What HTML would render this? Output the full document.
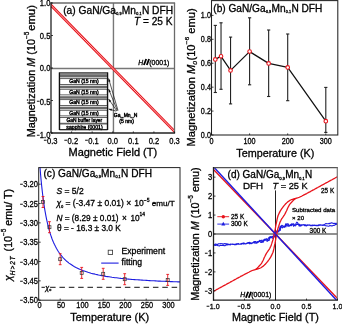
<!DOCTYPE html>
<html><head><meta charset="utf-8"><title>Figure</title>
<style>
html,body{margin:0;padding:0;background:#fff;}
svg{display:block;font-family:"Liberation Sans", sans-serif;}
text{stroke:#000;stroke-width:0.3px;}
</style></head><body>
<svg width="342" height="324" viewBox="0 0 342 324">
<rect x="0" y="0" width="342" height="324" fill="#fff"/>
<g id="pa">
<line x1="51.00" y1="68.50" x2="174.50" y2="68.50" stroke="#777" stroke-width="1.4" />
<line x1="113.45" y1="3.00" x2="113.45" y2="133.00" stroke="#777" stroke-width="1.4" />
<clipPath id="ac"><rect x="51.00" y="3.00" width="123.50" height="130.00"/></clipPath>
<line x1="50.00" y1="4.26" x2="175.20" y2="132.03" stroke="#e8141c" stroke-width="2.7" clip-path="url(#ac)"/>
<line x1="50.00" y1="4.26" x2="175.20" y2="132.03" stroke="#fff" stroke-width="0.8" opacity="0.85" clip-path="url(#ac)"/>
<line x1="51.00" y1="3.00" x2="175.10" y2="3.00" stroke="#6a6a6a" stroke-width="1.4" />
<line x1="174.50" y1="3.00" x2="174.50" y2="133.00" stroke="#6a6a6a" stroke-width="1.3" />
<line x1="51.00" y1="2.30" x2="51.00" y2="133.60" stroke="#222" stroke-width="1.3" />
<line x1="51.00" y1="133.00" x2="175.10" y2="133.00" stroke="#222" stroke-width="1.3" />
<line x1="51.00" y1="3.00" x2="53.00" y2="3.00" stroke="#111" stroke-width="0.8" />
<text transform="translate(50.40 6.10) scale(0.88 1)" font-size="8.6" text-anchor="end">1.0</text>
<line x1="51.00" y1="35.50" x2="53.00" y2="35.50" stroke="#111" stroke-width="0.8" />
<text transform="translate(50.40 38.60) scale(0.88 1)" font-size="8.6" text-anchor="end">0.5</text>
<line x1="51.00" y1="68.00" x2="53.00" y2="68.00" stroke="#111" stroke-width="0.8" />
<text transform="translate(50.40 71.10) scale(0.88 1)" font-size="8.6" text-anchor="end">0.0</text>
<line x1="51.00" y1="100.50" x2="53.00" y2="100.50" stroke="#111" stroke-width="0.8" />
<text transform="translate(50.40 104.50) scale(0.88 1)" font-size="8.6" text-anchor="end"><tspan font-size="5.8" dy="-1.05">−</tspan><tspan dy="1.05" dx="0.3">0.5</tspan></text>
<line x1="51.00" y1="133.00" x2="53.00" y2="133.00" stroke="#111" stroke-width="0.8" />
<text transform="translate(50.40 137.80) scale(0.88 1)" font-size="8.6" text-anchor="end"><tspan font-size="5.8" dy="-1.05">−</tspan><tspan dy="1.05" dx="0.3">1.0</tspan></text>
<line x1="51.00" y1="133.00" x2="51.00" y2="131.40" stroke="#111" stroke-width="0.8" />
<text transform="translate(50.65 143.50) scale(0.88 1)" font-size="8.6" text-anchor="middle"><tspan font-size="5.8" dy="-1.05">−</tspan><tspan dy="1.05" dx="0.3">0.3</tspan></text>
<line x1="71.58" y1="133.00" x2="71.58" y2="131.40" stroke="#111" stroke-width="0.8" />
<text transform="translate(71.23 143.50) scale(0.88 1)" font-size="8.6" text-anchor="middle"><tspan font-size="5.8" dy="-1.05">−</tspan><tspan dy="1.05" dx="0.3">0.2</tspan></text>
<line x1="92.17" y1="133.00" x2="92.17" y2="131.40" stroke="#111" stroke-width="0.8" />
<text transform="translate(91.82 143.50) scale(0.88 1)" font-size="8.6" text-anchor="middle"><tspan font-size="5.8" dy="-1.05">−</tspan><tspan dy="1.05" dx="0.3">0.1</tspan></text>
<line x1="112.75" y1="133.00" x2="112.75" y2="131.40" stroke="#111" stroke-width="0.8" />
<text transform="translate(112.75 143.50) scale(0.88 1)" font-size="8.6" text-anchor="middle">0.0</text>
<line x1="133.33" y1="133.00" x2="133.33" y2="131.40" stroke="#111" stroke-width="0.8" />
<text transform="translate(133.33 143.50) scale(0.88 1)" font-size="8.6" text-anchor="middle">0.1</text>
<line x1="153.92" y1="133.00" x2="153.92" y2="131.40" stroke="#111" stroke-width="0.8" />
<text transform="translate(153.92 143.50) scale(0.88 1)" font-size="8.6" text-anchor="middle">0.2</text>
<line x1="174.50" y1="133.00" x2="174.50" y2="131.40" stroke="#111" stroke-width="0.8" />
<text transform="translate(174.50 143.50) scale(0.88 1)" font-size="8.6" text-anchor="middle">0.3</text>
<text x="112.8" y="155.9" font-size="11.0" text-anchor="middle" fill="#000" >Magnetic Field (T)</text>
<text transform="translate(35.0 71.2) rotate(-90) scale(1.0 1.0)" font-size="10.85" text-anchor="middle" >Magnetization <tspan font-style="italic">M</tspan> (10<tspan font-size="60%" dy="-6">−5</tspan><tspan dy="6" dx="0.8" font-size="11.3">emu)</tspan></text>
<text x="63.2" y="13.7" font-size="10.22" text-anchor="start" fill="#000" >(a) GaN/Ga<tspan font-size="3.7" dy="1.3" dx="0.3">0.9</tspan><tspan dy="-1.3" dx="0.4">Mn</tspan><tspan font-size="3.7" dy="1.3" dx="0.3">0.1</tspan><tspan dy="-1.3" dx="0.4">N</tspan> DFH</text>
<text x="134.0" y="25.2" font-size="10.1" text-anchor="start" fill="#000" ><tspan font-style="italic">T</tspan> = 25 K</text>
<text x="138.3" y="64.6" font-size="6.8" text-anchor="start" fill="#000" ><tspan font-style="italic">H</tspan></text>
<line x1="143.90" y1="65.00" x2="146.20" y2="59.00" stroke="#000" stroke-width="1.8" />
<line x1="146.80" y1="65.00" x2="149.10" y2="59.00" stroke="#000" stroke-width="1.8" />
<text x="149.3" y="64.6" font-size="6.95" text-anchor="start" fill="#000" >(0001)</text>
<rect x="59.40" y="72.40" width="48.20" height="57.30" fill="#fff" stroke="none" stroke-width="0" />
<rect x="59.40" y="72.30" width="48.20" height="1.30" fill="#222" stroke="none" stroke-width="0" />
<rect x="59.40" y="74.20" width="48.20" height="3.20" fill="#6a6a6a" stroke="none" stroke-width="0" />
<rect x="59.80" y="78.70" width="47.40" height="5.70" fill="#fff" stroke="#222" stroke-width="0.7" />
<text x="84.0" y="83.4" font-size="5.1" text-anchor="middle" fill="#222" style="stroke-width:0.4px">GaN (15 nm)</text>
<rect x="59.40" y="85.70" width="48.20" height="2.50" fill="#6a6a6a" stroke="none" stroke-width="0" />
<rect x="59.80" y="89.20" width="47.40" height="5.70" fill="#fff" stroke="#222" stroke-width="0.7" />
<text x="84.0" y="93.9" font-size="5.1" text-anchor="middle" fill="#222" style="stroke-width:0.4px">GaN (15 nm)</text>
<rect x="59.40" y="96.20" width="48.20" height="2.50" fill="#6a6a6a" stroke="none" stroke-width="0" />
<rect x="59.80" y="99.70" width="47.40" height="5.70" fill="#fff" stroke="#222" stroke-width="0.7" />
<text x="84.0" y="104.4" font-size="5.1" text-anchor="middle" fill="#222" style="stroke-width:0.4px">GaN (15 nm)</text>
<rect x="59.40" y="106.70" width="48.20" height="2.50" fill="#6a6a6a" stroke="none" stroke-width="0" />
<rect x="59.80" y="110.20" width="47.40" height="5.70" fill="#fff" stroke="#222" stroke-width="0.7" />
<text x="84.0" y="114.9" font-size="5.1" text-anchor="middle" fill="#222" style="stroke-width:0.4px">GaN (15 nm)</text>
<rect x="59.80" y="117.50" width="47.40" height="5.70" fill="#fff" stroke="#222" stroke-width="0.7" />
<text x="84.3" y="122.2" font-size="4.9" text-anchor="middle" fill="#222" style="stroke-width:0.4px">GaN buffer layer</text>
<rect x="59.80" y="124.00" width="47.40" height="5.50" fill="#fff" stroke="#222" stroke-width="0.7" />
<text x="84.5" y="128.6" font-size="5.2" text-anchor="middle" fill="#222" style="stroke-width:0.4px">sapphire (0001)</text>
<line x1="59.40" y1="72.40" x2="59.40" y2="130.00" stroke="#111" stroke-width="1.3" />
<line x1="107.60" y1="72.40" x2="107.60" y2="130.00" stroke="#111" stroke-width="1.3" />
<line x1="59.40" y1="129.80" x2="107.60" y2="129.80" stroke="#111" stroke-width="1.0" />
<line x1="118.00" y1="110.50" x2="108.60" y2="78.50" stroke="#111" stroke-width="0.7" />
<polygon points="108.60,78.50 110.56,81.26 108.45,81.88" fill="#111"/>
<line x1="117.40" y1="110.70" x2="108.60" y2="89.00" stroke="#111" stroke-width="0.7" />
<polygon points="108.60,89.00 110.82,91.55 108.78,92.38" fill="#111"/>
<line x1="116.80" y1="110.90" x2="108.60" y2="99.00" stroke="#111" stroke-width="0.7" />
<polygon points="108.60,99.00 111.32,101.01 109.51,102.26" fill="#111"/>
<line x1="116.20" y1="111.10" x2="108.60" y2="109.00" stroke="#111" stroke-width="0.7" />
<polygon points="108.60,109.00 111.98,108.79 111.39,110.91" fill="#111"/>
<text x="125.6" y="117.0" font-size="5.0" text-anchor="middle" fill="#000" style="stroke-width:0.4px">Ga<tspan font-size="2.3" dy="0.8">0.9</tspan><tspan dy="-0.8">Mn</tspan><tspan font-size="2.3" dy="0.8">0.1</tspan><tspan dy="-0.8">N</tspan></text>
<text x="126.6" y="123.2" font-size="5.1" text-anchor="middle" fill="#000" style="stroke-width:0.4px">(5 nm)</text>
</g>
<g id="pb">
<rect x="211.50" y="0.60" width="126.30" height="134.40" fill="none" stroke="#222" stroke-width="1.05" />
<line x1="211.50" y1="135.00" x2="213.50" y2="135.00" stroke="#111" stroke-width="0.8" />
<text transform="translate(210.90 137.90) scale(0.88 1)" font-size="8.2" text-anchor="end">0.0</text>
<line x1="211.50" y1="111.08" x2="213.50" y2="111.08" stroke="#111" stroke-width="0.8" />
<text transform="translate(210.90 113.98) scale(0.88 1)" font-size="8.2" text-anchor="end">0.2</text>
<line x1="211.50" y1="87.16" x2="213.50" y2="87.16" stroke="#111" stroke-width="0.8" />
<text transform="translate(210.90 90.06) scale(0.88 1)" font-size="8.2" text-anchor="end">0.4</text>
<line x1="211.50" y1="63.24" x2="213.50" y2="63.24" stroke="#111" stroke-width="0.8" />
<text transform="translate(210.90 66.14) scale(0.88 1)" font-size="8.2" text-anchor="end">0.6</text>
<line x1="211.50" y1="39.32" x2="213.50" y2="39.32" stroke="#111" stroke-width="0.8" />
<text transform="translate(210.90 42.22) scale(0.88 1)" font-size="8.2" text-anchor="end">0.8</text>
<line x1="211.50" y1="15.40" x2="213.50" y2="15.40" stroke="#111" stroke-width="0.8" />
<text transform="translate(210.90 18.30) scale(0.88 1)" font-size="8.2" text-anchor="end">1.0</text>
<line x1="211.50" y1="135.00" x2="211.50" y2="133.40" stroke="#111" stroke-width="0.8" />
<text transform="translate(211.50 144.00) scale(0.88 1)" font-size="8.2" text-anchor="middle">0</text>
<line x1="249.60" y1="135.00" x2="249.60" y2="133.40" stroke="#111" stroke-width="0.8" />
<text transform="translate(249.60 144.00) scale(0.88 1)" font-size="8.2" text-anchor="middle">100</text>
<line x1="287.70" y1="135.00" x2="287.70" y2="133.40" stroke="#111" stroke-width="0.8" />
<text transform="translate(287.70 144.00) scale(0.88 1)" font-size="8.2" text-anchor="middle">200</text>
<line x1="325.80" y1="135.00" x2="325.80" y2="133.40" stroke="#111" stroke-width="0.8" />
<text transform="translate(325.80 144.00) scale(0.88 1)" font-size="8.2" text-anchor="middle">300</text>
<line x1="215.31" y1="25.40" x2="215.31" y2="92.50" stroke="#222" stroke-width="1.1" />
<line x1="213.71" y1="25.40" x2="216.91" y2="25.40" stroke="#222" stroke-width="1.1" />
<line x1="213.71" y1="92.50" x2="216.91" y2="92.50" stroke="#222" stroke-width="1.1" />
<line x1="221.03" y1="22.80" x2="221.03" y2="89.30" stroke="#222" stroke-width="1.1" />
<line x1="219.43" y1="22.80" x2="222.62" y2="22.80" stroke="#222" stroke-width="1.1" />
<line x1="219.43" y1="89.30" x2="222.62" y2="89.30" stroke="#222" stroke-width="1.1" />
<line x1="230.55" y1="37.10" x2="230.55" y2="103.90" stroke="#222" stroke-width="1.1" />
<line x1="228.95" y1="37.10" x2="232.15" y2="37.10" stroke="#222" stroke-width="1.1" />
<line x1="228.95" y1="103.90" x2="232.15" y2="103.90" stroke="#222" stroke-width="1.1" />
<line x1="249.60" y1="17.80" x2="249.60" y2="84.80" stroke="#222" stroke-width="1.1" />
<line x1="248.00" y1="17.80" x2="251.20" y2="17.80" stroke="#222" stroke-width="1.1" />
<line x1="248.00" y1="84.80" x2="251.20" y2="84.80" stroke="#222" stroke-width="1.1" />
<line x1="268.65" y1="30.00" x2="268.65" y2="96.50" stroke="#222" stroke-width="1.1" />
<line x1="267.05" y1="30.00" x2="270.25" y2="30.00" stroke="#222" stroke-width="1.1" />
<line x1="267.05" y1="96.50" x2="270.25" y2="96.50" stroke="#222" stroke-width="1.1" />
<line x1="287.70" y1="34.00" x2="287.70" y2="100.70" stroke="#222" stroke-width="1.1" />
<line x1="286.10" y1="34.00" x2="289.30" y2="34.00" stroke="#222" stroke-width="1.1" />
<line x1="286.10" y1="100.70" x2="289.30" y2="100.70" stroke="#222" stroke-width="1.1" />
<line x1="325.80" y1="87.40" x2="325.80" y2="132.40" stroke="#222" stroke-width="1.1" />
<line x1="324.20" y1="87.40" x2="327.40" y2="87.40" stroke="#222" stroke-width="1.1" />
<line x1="324.20" y1="132.40" x2="327.40" y2="132.40" stroke="#222" stroke-width="1.1" />
<polyline points="215.3,59.4 221.0,56.3 230.6,70.4 249.6,51.6 268.6,63.4 287.7,67.4 325.8,121.2" fill="none" stroke="#111" stroke-width="1.25" stroke-linejoin="round" />
<circle cx="215.31" cy="59.40" r="1.8" fill="#fff" stroke="#e8141c" stroke-width="1.1"/>
<circle cx="221.03" cy="56.30" r="1.8" fill="#fff" stroke="#e8141c" stroke-width="1.1"/>
<circle cx="230.55" cy="70.40" r="1.8" fill="#fff" stroke="#e8141c" stroke-width="1.1"/>
<circle cx="249.60" cy="51.60" r="1.8" fill="#fff" stroke="#e8141c" stroke-width="1.1"/>
<circle cx="268.65" cy="63.40" r="1.8" fill="#fff" stroke="#e8141c" stroke-width="1.1"/>
<circle cx="287.70" cy="67.40" r="1.8" fill="#fff" stroke="#e8141c" stroke-width="1.1"/>
<circle cx="325.80" cy="121.20" r="1.8" fill="#fff" stroke="#e8141c" stroke-width="1.1"/>
<text x="213.3" y="12.0" font-size="10.15" text-anchor="start" fill="#000" >(b) GaN/Ga<tspan font-size="3.7" dy="1.3" dx="0.3">0.9</tspan><tspan dy="-1.3" dx="0.4">Mn</tspan><tspan font-size="3.7" dy="1.3" dx="0.3">0.1</tspan><tspan dy="-1.3" dx="0.4">N</tspan> DFH</text>
<text x="275.3" y="156.8" font-size="10.8" text-anchor="middle" fill="#000" >Temperature (K)</text>
<text transform="translate(194.8 146.5) rotate(-90) scale(1.0 0.9)" font-size="11.15" text-anchor="start" >Magnetization <tspan font-style="italic">M</tspan><tspan font-size="60%" dy="2" font-style="italic">0</tspan><tspan dy="-2" dx="0.5">(10</tspan><tspan font-size="60%" dy="-6.5">−6</tspan><tspan dy="6.5"> emu)</tspan></text>
</g>
<g id="pc">
<line x1="50.10" y1="287.30" x2="179.00" y2="287.30" stroke="#111" stroke-width="1.0" stroke-dasharray="5.5 3.85"/>
<line x1="41.50" y1="287.30" x2="44.90" y2="287.30" stroke="#111" stroke-width="1.0" />
<clipPath id="cc"><rect x="38.70" y="167.60" width="141.30" height="132.60"/></clipPath>
<polyline points="39.5,160.6 40.0,167.3 40.5,173.5 41.0,179.1 41.5,184.2 42.0,188.9 42.5,193.3 43.0,197.4 43.5,201.1 44.0,204.6 44.5,207.9 45.0,210.9 45.5,213.7 46.0,216.4 46.5,218.9 47.0,221.2 47.5,223.4 48.0,225.5 48.5,227.5 49.0,229.3 49.5,231.1 50.0,232.8 50.5,234.4 51.0,235.9 51.5,237.3 52.0,238.7 52.5,240.0 53.0,241.2 53.5,242.4 54.0,243.5 54.5,244.6 55.0,245.6 55.5,246.6 56.0,247.5 56.5,248.5 57.0,249.3 57.5,250.2 58.0,251.0 58.5,251.8 59.0,252.5 59.5,253.2 60.0,253.9 60.5,254.6 61.0,255.2 61.5,255.8 62.0,256.4 62.5,257.0 63.0,257.6 63.5,258.1 64.0,258.6 64.5,259.2 65.0,259.6 65.5,260.1 66.0,260.6 66.5,261.0 67.0,261.5 67.5,261.9 68.0,262.3 68.5,262.7 69.0,263.1 69.5,263.4 70.0,263.8 71.5,264.8 73.0,265.8 74.5,266.7 76.0,267.5 77.5,268.2 79.0,268.9 80.5,269.6 82.0,270.2 83.5,270.8 85.0,271.3 86.5,271.8 88.0,272.3 89.5,272.7 91.0,273.2 92.5,273.6 94.0,273.9 95.5,274.3 97.0,274.6 98.5,275.0 100.0,275.3 101.5,275.6 103.0,275.8 104.5,276.1 106.0,276.4 107.5,276.6 109.0,276.8 110.5,277.0 112.0,277.3 113.5,277.5 115.0,277.7 116.5,277.8 118.0,278.0 119.5,278.2 121.0,278.4 122.5,278.5 124.0,278.7 125.5,278.8 127.0,279.0 128.5,279.1 130.0,279.2 131.5,279.4 133.0,279.5 134.5,279.6 136.0,279.7 137.5,279.8 139.0,279.9 140.5,280.0 142.0,280.1 143.5,280.2 145.0,280.3 146.5,280.4 148.0,280.5 149.5,280.6 151.0,280.7 152.5,280.8 154.0,280.8 155.5,280.9 157.0,281.0 158.5,281.1 160.0,281.1 161.5,281.2 163.0,281.3 164.5,281.3 166.0,281.4 167.5,281.5 169.0,281.5 170.5,281.6 172.0,281.6 173.5,281.7 175.0,281.7 176.5,281.8 178.0,281.9 179.5,281.9 181.0,282.0" fill="none" stroke="#1c1ce0" stroke-width="1.1" stroke-linejoin="round" clip-path="url(#cc)"/>
<line x1="43.00" y1="196.50" x2="43.00" y2="207.50" stroke="#e8141c" stroke-width="0.9" />
<line x1="41.60" y1="196.50" x2="44.40" y2="196.50" stroke="#e8141c" stroke-width="0.9" />
<line x1="41.60" y1="207.50" x2="44.40" y2="207.50" stroke="#e8141c" stroke-width="0.9" />
<rect x="41.50" y="200.50" width="3.00" height="3.00" fill="none" stroke="#333" stroke-width="0.7" />
<line x1="49.45" y1="221.70" x2="49.45" y2="232.70" stroke="#e8141c" stroke-width="0.9" />
<line x1="48.05" y1="221.70" x2="50.85" y2="221.70" stroke="#e8141c" stroke-width="0.9" />
<line x1="48.05" y1="232.70" x2="50.85" y2="232.70" stroke="#e8141c" stroke-width="0.9" />
<rect x="47.95" y="225.70" width="3.00" height="3.00" fill="none" stroke="#333" stroke-width="0.7" />
<line x1="60.20" y1="253.70" x2="60.20" y2="264.70" stroke="#e8141c" stroke-width="0.9" />
<line x1="58.80" y1="253.70" x2="61.60" y2="253.70" stroke="#e8141c" stroke-width="0.9" />
<line x1="58.80" y1="264.70" x2="61.60" y2="264.70" stroke="#e8141c" stroke-width="0.9" />
<rect x="58.70" y="257.70" width="3.00" height="3.00" fill="none" stroke="#333" stroke-width="0.7" />
<line x1="81.70" y1="267.40" x2="81.70" y2="278.40" stroke="#e8141c" stroke-width="0.9" />
<line x1="80.30" y1="267.40" x2="83.10" y2="267.40" stroke="#e8141c" stroke-width="0.9" />
<line x1="80.30" y1="278.40" x2="83.10" y2="278.40" stroke="#e8141c" stroke-width="0.9" />
<rect x="80.20" y="271.40" width="3.00" height="3.00" fill="none" stroke="#333" stroke-width="0.7" />
<line x1="103.20" y1="268.30" x2="103.20" y2="279.30" stroke="#e8141c" stroke-width="0.9" />
<line x1="101.80" y1="268.30" x2="104.60" y2="268.30" stroke="#e8141c" stroke-width="0.9" />
<line x1="101.80" y1="279.30" x2="104.60" y2="279.30" stroke="#e8141c" stroke-width="0.9" />
<rect x="101.70" y="272.30" width="3.00" height="3.00" fill="none" stroke="#333" stroke-width="0.7" />
<line x1="124.70" y1="273.70" x2="124.70" y2="284.70" stroke="#e8141c" stroke-width="0.9" />
<line x1="123.30" y1="273.70" x2="126.10" y2="273.70" stroke="#e8141c" stroke-width="0.9" />
<line x1="123.30" y1="284.70" x2="126.10" y2="284.70" stroke="#e8141c" stroke-width="0.9" />
<rect x="123.20" y="277.70" width="3.00" height="3.00" fill="none" stroke="#333" stroke-width="0.7" />
<line x1="167.70" y1="274.40" x2="167.70" y2="285.40" stroke="#e8141c" stroke-width="0.9" />
<line x1="166.30" y1="274.40" x2="169.10" y2="274.40" stroke="#e8141c" stroke-width="0.9" />
<line x1="166.30" y1="285.40" x2="169.10" y2="285.40" stroke="#e8141c" stroke-width="0.9" />
<rect x="166.20" y="278.40" width="3.00" height="3.00" fill="none" stroke="#333" stroke-width="0.7" />
<rect x="38.70" y="167.60" width="141.30" height="132.60" fill="none" stroke="#222" stroke-width="1.0" />
<line x1="38.70" y1="184.20" x2="40.70" y2="184.20" stroke="#111" stroke-width="0.8" />
<text transform="translate(37.90 187.30) scale(0.88 1)" font-size="8.6" text-anchor="end"><tspan font-size="5.8" dy="-1.05">−</tspan><tspan dy="1.05" dx="0.3">3.20</tspan></text>
<line x1="38.70" y1="203.53" x2="40.70" y2="203.53" stroke="#111" stroke-width="0.8" />
<text transform="translate(37.90 206.63) scale(0.88 1)" font-size="8.6" text-anchor="end"><tspan font-size="5.8" dy="-1.05">−</tspan><tspan dy="1.05" dx="0.3">3.25</tspan></text>
<line x1="38.70" y1="222.86" x2="40.70" y2="222.86" stroke="#111" stroke-width="0.8" />
<text transform="translate(37.90 225.96) scale(0.88 1)" font-size="8.6" text-anchor="end"><tspan font-size="5.8" dy="-1.05">−</tspan><tspan dy="1.05" dx="0.3">3.30</tspan></text>
<line x1="38.70" y1="242.19" x2="40.70" y2="242.19" stroke="#111" stroke-width="0.8" />
<text transform="translate(37.90 245.29) scale(0.88 1)" font-size="8.6" text-anchor="end"><tspan font-size="5.8" dy="-1.05">−</tspan><tspan dy="1.05" dx="0.3">3.35</tspan></text>
<line x1="38.70" y1="261.52" x2="40.70" y2="261.52" stroke="#111" stroke-width="0.8" />
<text transform="translate(37.90 264.62) scale(0.88 1)" font-size="8.6" text-anchor="end"><tspan font-size="5.8" dy="-1.05">−</tspan><tspan dy="1.05" dx="0.3">3.40</tspan></text>
<line x1="38.70" y1="280.85" x2="40.70" y2="280.85" stroke="#111" stroke-width="0.8" />
<text transform="translate(37.90 283.95) scale(0.88 1)" font-size="8.6" text-anchor="end"><tspan font-size="5.8" dy="-1.05">−</tspan><tspan dy="1.05" dx="0.3">3.45</tspan></text>
<line x1="38.70" y1="300.18" x2="40.70" y2="300.18" stroke="#111" stroke-width="0.8" />
<text transform="translate(37.90 303.28) scale(0.88 1)" font-size="8.6" text-anchor="end"><tspan font-size="5.8" dy="-1.05">−</tspan><tspan dy="1.05" dx="0.3">3.50</tspan></text>
<line x1="38.70" y1="300.20" x2="38.70" y2="298.60" stroke="#111" stroke-width="0.8" />
<text transform="translate(39.50 308.00) scale(0.88 1)" font-size="8.4" text-anchor="middle">0</text>
<line x1="60.20" y1="300.20" x2="60.20" y2="298.60" stroke="#111" stroke-width="0.8" />
<text transform="translate(61.00 308.00) scale(0.88 1)" font-size="8.4" text-anchor="middle">50</text>
<line x1="81.70" y1="300.20" x2="81.70" y2="298.60" stroke="#111" stroke-width="0.8" />
<text transform="translate(82.50 308.00) scale(0.88 1)" font-size="8.4" text-anchor="middle">100</text>
<line x1="103.20" y1="300.20" x2="103.20" y2="298.60" stroke="#111" stroke-width="0.8" />
<text transform="translate(104.00 308.00) scale(0.88 1)" font-size="8.4" text-anchor="middle">150</text>
<line x1="124.70" y1="300.20" x2="124.70" y2="298.60" stroke="#111" stroke-width="0.8" />
<text transform="translate(125.50 308.00) scale(0.88 1)" font-size="8.4" text-anchor="middle">200</text>
<line x1="146.20" y1="300.20" x2="146.20" y2="298.60" stroke="#111" stroke-width="0.8" />
<text transform="translate(147.00 308.00) scale(0.88 1)" font-size="8.4" text-anchor="middle">250</text>
<line x1="167.70" y1="300.20" x2="167.70" y2="298.60" stroke="#111" stroke-width="0.8" />
<text transform="translate(168.50 308.00) scale(0.88 1)" font-size="8.4" text-anchor="middle">300</text>
<text x="109.7" y="320.6" font-size="10.9" text-anchor="middle" fill="#000" >Temperature (K)</text>
<text transform="translate(11.8 280.9) rotate(-90) scale(1.0 1.0)" font-size="10.7" text-anchor="start" ><tspan font-size="10.5" font-style="italic">χ</tspan><tspan font-size="6.4" dy="3.3" font-style="italic" letter-spacing="1.0">H&gt;2T</tspan><tspan dy="-3.3" dx="1.0"> (10</tspan><tspan font-size="60%" dy="-6">−5</tspan><tspan dy="6"> emu/ T)</tspan></text>
<text x="43.5" y="176.6" font-size="10.15" text-anchor="start" fill="#000" >(c) GaN/Ga<tspan font-size="3.7" dy="1.3" dx="0.3">0.9</tspan><tspan dy="-1.3" dx="0.4">Mn</tspan><tspan font-size="3.7" dy="1.3" dx="0.3">0.1</tspan><tspan dy="-1.3" dx="0.4">N</tspan> DFH</text>
<text x="56.5" y="193.9" font-size="8.5" text-anchor="start" fill="#000" ><tspan font-style="italic">S</tspan> = 5/2</text>
<text x="56.5" y="206.3" font-size="8.5" text-anchor="start" fill="#000" ><tspan font-style="italic">χ</tspan><tspan font-size="3.6" dy="1.4">0</tspan><tspan dy="-1.4"> = (-3.47 ± 0.01) ×</tspan><tspan dx="0.8"> 10</tspan><tspan font-size="60%" dy="-4.6">−5</tspan><tspan dy="4.6" dx="2.2" font-size="8.1">emu/T</tspan></text>
<text x="56.5" y="220.6" font-size="8.25" text-anchor="start" fill="#000" ><tspan font-style="italic">N</tspan> = (8.29 ± 0.01)<tspan dx="1.2"> ×</tspan><tspan dx="1.2"> 10</tspan><tspan font-size="60%" dy="-4.4">14</tspan></text>
<text x="57.0" y="231.4" font-size="8.3" text-anchor="start" fill="#000" >θ = - 16.3 ± 3.0 K</text>
<rect x="108.20" y="250.20" width="4.40" height="4.40" fill="none" stroke="#333" stroke-width="0.8" />
<text x="121.6" y="254.4" font-size="8.6" text-anchor="start" fill="#000" >Experiment</text>
<line x1="101.20" y1="263.10" x2="118.60" y2="263.10" stroke="#1c1ce0" stroke-width="1.1" />
<text x="121.6" y="264.9" font-size="8.6" text-anchor="start" fill="#000" >fitting</text>
<text x="45.2" y="290.0" font-size="7.2" text-anchor="start" fill="#000" ><tspan font-style="italic">χ</tspan><tspan font-size="3.8" dy="1.3">o</tspan></text>
</g>
<g id="pd">
<clipPath id="dc"><rect x="213.50" y="167.60" width="123.80" height="132.60"/></clipPath>
<line x1="213.50" y1="234.00" x2="337.30" y2="234.00" stroke="#222" stroke-width="1.1" />
<line x1="275.50" y1="190.40" x2="275.50" y2="300.20" stroke="#222" stroke-width="1.0" />
<polyline points="212.3,245.1 213.1,245.3 213.8,245.5 214.6,245.1 215.4,245.4 216.2,245.3 217.0,245.2 217.8,245.6 218.6,245.8 219.4,246.0 220.2,245.4 221.0,245.5 221.7,245.5 222.5,245.4 223.3,245.5 224.1,245.6 224.9,245.8 225.7,245.1 226.5,244.9 227.3,244.9 228.1,244.8 228.9,244.7 229.7,244.7 230.4,244.9 231.2,244.3 232.0,244.1 232.8,244.1 233.6,244.3 234.4,244.4 235.2,244.2 236.0,244.7 236.8,244.2 237.6,243.8 238.3,243.6 239.1,244.0 239.9,244.2 240.7,243.8 241.5,244.2 242.3,243.8 243.1,243.4 243.9,242.9 244.7,243.4 245.5,244.0 246.3,243.4 247.0,243.6 247.8,243.3 248.6,243.1 249.4,242.3 250.2,242.6 251.0,243.8 251.8,243.2 252.6,243.1 253.4,242.5 254.2,242.6 254.9,241.5 255.7,241.5 256.5,243.2 257.3,242.8 258.1,242.4 258.9,241.0 259.7,241.6 260.5,240.7 261.3,240.2 262.1,242.1 262.9,242.2 263.6,241.7 264.4,239.2 265.2,240.0 266.0,239.6 266.8,238.7 267.6,240.2 268.4,240.5 269.2,240.4 270.0,236.6 270.8,236.8 271.5,237.1 272.3,236.2 273.1,236.7 273.9,236.5 274.7,237.0 275.5,232.3 276.3,231.1 277.1,231.3 277.9,230.8 278.7,230.4 279.5,229.3 280.2,230.5 281.0,226.8 281.8,225.3 282.6,225.8 283.4,226.8 284.2,227.0 285.0,225.5 285.8,227.0 286.6,224.9 287.4,223.7 288.1,223.8 288.9,225.3 289.7,226.2 290.5,224.7 291.3,225.7 292.1,224.8 292.9,224.1 293.7,223.8 294.5,225.0 295.3,225.9 296.1,223.2 296.8,222.2 297.6,222.8 298.4,224.2 299.2,224.2 300.0,224.8 300.8,226.1 301.6,225.3 302.4,225.1 303.2,224.8 304.0,225.1 304.7,224.7 305.5,224.9 306.3,225.9 307.1,225.5 307.9,225.3 308.7,224.9 309.5,225.2 310.3,225.2 311.1,225.1 311.9,225.8 312.7,225.7 313.4,225.5 314.2,225.0 315.0,225.3 315.8,225.4 316.6,225.3 317.4,225.6 318.2,225.6 319.0,225.5 319.8,224.8 320.6,224.9 321.3,225.1 322.1,225.0 322.9,224.9 323.7,224.7 324.5,224.6 325.3,223.8 326.1,223.6 326.9,223.8 327.7,223.7 328.5,223.6 329.3,223.4 330.0,223.6 330.8,223.0 331.6,222.8 332.4,223.1 333.2,223.4 334.0,223.5 334.8,223.2 335.6,223.6 336.4,223.3 337.2,223.2 337.9,223.5 338.7,224.0 338.7,223.8 337.9,224.5 337.2,224.4 336.4,224.4 335.6,224.5 334.8,225.1 334.0,225.5 333.2,225.4 332.4,225.9 331.6,225.9 330.8,225.8 330.0,225.5 329.3,225.9 328.5,226.2 327.7,226.0 326.9,226.0 326.1,225.8 325.3,225.7 324.5,225.1 323.7,225.2 322.9,225.5 322.1,225.2 321.3,225.2 320.6,225.1 319.8,225.3 319.0,224.9 318.2,225.0 317.4,225.6 316.6,225.7 315.8,225.6 315.0,225.2 314.2,225.5 313.4,225.2 312.7,225.0 311.9,225.5 311.1,225.7 310.3,225.7 309.5,224.9 308.7,225.2 307.9,225.1 307.1,224.9 306.3,225.3 305.5,225.6 304.7,225.8 304.0,224.6 303.2,224.8 302.4,224.9 301.6,224.9 300.8,225.1 300.0,225.4 299.2,226.1 298.4,224.5 297.6,224.2 296.8,224.5 296.1,225.0 295.3,225.1 294.5,225.1 293.7,226.3 292.9,224.5 292.1,223.8 291.3,224.0 290.5,225.2 289.7,225.7 288.9,224.8 288.1,226.5 287.4,225.0 286.6,224.0 285.8,223.8 285.0,226.0 284.2,227.5 283.4,226.1 282.6,227.9 281.8,227.1 281.0,226.8 280.2,226.1 279.5,228.8 278.7,232.0 277.9,230.9 277.1,232.4 276.3,232.4 275.5,233.4 274.7,232.6 273.9,234.8 273.1,238.6 272.3,237.7 271.5,237.8 270.8,236.9 270.0,238.3 269.2,237.3 268.4,238.1 267.6,241.3 266.8,241.0 266.0,240.6 265.2,238.9 264.4,240.4 263.6,240.1 262.9,240.1 262.1,242.2 261.3,242.4 260.5,242.2 259.7,240.2 258.9,241.3 258.1,241.7 257.3,241.6 256.5,242.7 255.7,243.0 254.9,243.3 254.2,241.5 253.4,242.1 252.6,242.8 251.8,242.9 251.0,243.2 250.2,243.3 249.4,243.8 248.6,242.6 247.8,242.6 247.0,243.2 246.3,243.5 245.5,243.7 244.7,243.5 243.9,244.1 243.1,243.3 242.3,243.2 241.5,243.6 240.7,244.1 239.9,244.2 239.1,243.9 238.3,244.3 237.6,244.0 236.8,243.8 236.0,243.9 235.2,244.4 234.4,244.7 233.6,244.2 232.8,244.4 232.0,244.2 231.2,244.2 230.4,244.0 229.7,244.3 228.9,244.6 228.1,244.0 227.3,243.9 226.5,243.7 225.7,243.7 224.9,243.5 224.1,243.7 223.3,244.2 222.5,243.8 221.7,243.7 221.0,243.5 220.2,243.8 219.4,243.7 218.6,243.8 217.8,244.4 217.0,244.3 216.2,244.3 215.4,244.0 214.6,244.5 213.8,244.7 213.1,244.7 212.3,245.3" fill="none" stroke="#1c1ce0" stroke-width="1.1" stroke-linejoin="round" clip-path="url(#dc)"/>
<polyline points="212.3,291.6 212.8,291.4 213.3,291.3 213.8,291.1 214.4,290.8 214.9,290.5 215.4,290.3 215.9,290.0 216.5,289.7 217.0,289.4 217.5,289.1 218.1,288.8 218.6,288.5 219.1,288.2 219.6,288.0 220.2,287.7 220.7,287.4 221.2,287.1 221.7,286.8 222.3,286.5 222.8,286.2 223.3,285.9 223.9,285.6 224.4,285.4 224.9,285.1 225.4,284.8 226.0,284.5 226.5,284.2 227.0,283.9 227.5,283.6 228.1,283.3 228.6,283.1 229.1,282.8 229.7,282.5 230.2,282.2 230.7,281.9 231.2,281.6 231.8,281.3 232.3,281.0 232.8,280.8 233.3,280.5 233.9,280.2 234.4,279.9 234.9,279.6 235.4,279.3 236.0,279.0 236.5,278.7 237.0,278.4 237.6,278.2 238.1,277.9 238.6,277.6 239.1,277.3 239.7,277.0 240.2,276.7 240.7,276.4 241.2,276.1 241.8,275.9 242.3,275.6 242.8,275.3 243.4,275.0 243.9,274.7 244.4,274.4 244.9,274.2 245.5,273.9 246.0,273.6 246.5,273.3 247.0,273.1 247.6,272.8 248.1,272.5 248.6,272.3 249.2,272.0 249.7,271.7 250.2,271.5 250.7,271.2 251.3,271.0 251.8,270.7 252.3,270.5 252.8,270.3 253.4,270.2 253.9,270.0 254.4,269.9 254.9,269.7 255.5,269.6 256.0,269.4 256.5,269.3 257.1,269.1 257.6,269.0 258.1,268.8 258.6,268.7 259.2,268.5 259.7,268.3 260.2,268.0 260.7,267.8 261.3,267.5 261.8,267.1 262.3,266.8 262.9,266.4 263.4,266.0 263.9,265.6 264.4,265.1 265.0,264.6 265.5,264.0 266.0,263.4 266.5,262.8 267.1,262.1 267.6,261.5 268.1,260.8 268.6,260.2 269.2,259.4 269.7,258.6 270.2,257.8 270.8,256.9 271.3,255.9 271.8,254.9 272.3,253.8 272.9,252.5 273.4,250.8 273.9,248.7 274.4,246.1 275.0,243.4 275.5,240.5 276.0,237.5 276.6,234.6 277.1,232.1 277.6,229.9 278.1,228.0 278.7,226.3 279.2,224.6 279.7,223.1 280.2,221.8 280.8,220.6 281.3,219.5 281.8,218.6 282.4,217.8 282.9,217.1 283.4,216.3 283.9,215.6 284.5,214.8 285.0,213.9 285.5,212.9 286.0,211.8 286.6,210.7 287.1,209.5 287.6,208.3 288.1,207.2 288.7,206.1 289.2,205.2 289.7,204.4 290.3,203.7 290.8,203.1 291.3,202.5 291.8,201.9 292.4,201.4 292.9,200.8 293.4,200.3 293.9,199.8 294.5,199.4 295.0,199.0 295.5,198.7 296.1,198.4 296.6,198.2 297.1,198.0 297.6,197.8 298.2,197.7 298.7,197.5 299.2,197.3 299.7,197.0 300.3,196.8 300.8,196.5 301.3,196.3 301.9,196.0 302.4,195.7 302.9,195.5 303.4,195.2 304.0,194.9 304.5,194.7 305.0,194.4 305.5,194.1 306.1,193.8 306.6,193.6 307.1,193.3 307.6,193.0 308.2,192.7 308.7,192.4 309.2,192.1 309.8,191.9 310.3,191.6 310.8,191.3 311.3,191.0 311.9,190.7 312.4,190.4 312.9,190.1 313.4,189.8 314.0,189.6 314.5,189.3 315.0,189.0 315.6,188.7 316.1,188.4 316.6,188.1 317.1,187.8 317.7,187.5 318.2,187.2 318.7,187.0 319.2,186.7 319.8,186.4 320.3,186.1 320.8,185.8 321.3,185.5 321.9,185.2 322.4,184.9 322.9,184.7 323.5,184.4 324.0,184.1 324.5,183.8 325.0,183.5 325.6,183.2 326.1,182.9 326.6,182.6 327.1,182.4 327.7,182.1 328.2,181.8 328.7,181.5 329.3,181.2 329.8,180.9 330.3,180.6 330.8,180.3 331.4,180.0 331.9,179.8 332.4,179.5 332.9,179.2 333.5,178.9 334.0,178.6 334.5,178.3 335.1,178.0 335.6,177.7 336.1,177.5 336.6,177.2 337.2,176.9 337.7,176.7 338.2,176.6 338.7,176.4 338.7,176.4 338.2,176.6 337.7,176.7 337.2,176.9 336.6,177.2 336.1,177.5 335.6,177.7 335.1,178.0 334.5,178.3 334.0,178.6 333.5,178.9 332.9,179.2 332.4,179.5 331.9,179.8 331.4,180.0 330.8,180.3 330.3,180.6 329.8,180.9 329.3,181.2 328.7,181.5 328.2,181.8 327.7,182.1 327.1,182.4 326.6,182.6 326.1,182.9 325.6,183.2 325.0,183.5 324.5,183.8 324.0,184.1 323.5,184.4 322.9,184.7 322.4,184.9 321.9,185.2 321.3,185.5 320.8,185.8 320.3,186.1 319.8,186.4 319.2,186.7 318.7,187.0 318.2,187.2 317.7,187.5 317.1,187.8 316.6,188.1 316.1,188.4 315.6,188.7 315.0,189.0 314.5,189.3 314.0,189.6 313.4,189.8 312.9,190.1 312.4,190.4 311.9,190.7 311.3,191.0 310.8,191.3 310.3,191.6 309.8,191.9 309.2,192.1 308.7,192.4 308.2,192.7 307.6,193.0 307.1,193.3 306.6,193.6 306.1,193.8 305.5,194.1 305.0,194.4 304.5,194.7 304.0,194.9 303.4,195.2 302.9,195.5 302.4,195.7 301.9,196.0 301.3,196.3 300.8,196.5 300.3,196.8 299.7,197.0 299.2,197.3 298.7,197.5 298.2,197.7 297.6,197.8 297.1,198.0 296.6,198.1 296.1,198.3 295.5,198.4 295.0,198.6 294.5,198.7 293.9,198.9 293.4,199.0 292.9,199.2 292.4,199.3 291.8,199.5 291.3,199.7 290.8,200.0 290.3,200.2 289.7,200.5 289.2,200.9 288.7,201.2 288.1,201.6 287.6,202.0 287.1,202.4 286.6,202.9 286.0,203.4 285.5,204.0 285.0,204.6 284.5,205.2 283.9,205.9 283.4,206.5 282.9,207.2 282.4,207.8 281.8,208.6 281.3,209.4 280.8,210.2 280.2,211.1 279.7,212.1 279.2,213.1 278.7,214.2 278.1,215.5 277.6,217.2 277.1,219.3 276.6,221.9 276.0,224.6 275.5,227.5 275.0,230.5 274.4,233.4 273.9,235.9 273.4,238.1 272.9,240.0 272.3,241.7 271.8,243.4 271.3,244.9 270.8,246.2 270.2,247.4 269.7,248.5 269.2,249.4 268.6,250.2 268.1,250.9 267.6,251.7 267.1,252.4 266.5,253.2 266.0,254.1 265.5,255.1 265.0,256.2 264.4,257.3 263.9,258.5 263.4,259.7 262.9,260.8 262.3,261.9 261.8,262.8 261.3,263.6 260.7,264.3 260.2,264.9 259.7,265.5 259.2,266.1 258.6,266.6 258.1,267.2 257.6,267.7 257.1,268.2 256.5,268.6 256.0,269.0 255.5,269.3 254.9,269.6 254.4,269.8 253.9,270.0 253.4,270.2 252.8,270.3 252.3,270.5 251.8,270.7 251.3,271.0 250.7,271.2 250.2,271.5 249.7,271.7 249.2,272.0 248.6,272.3 248.1,272.5 247.6,272.8 247.0,273.1 246.5,273.3 246.0,273.6 245.5,273.9 244.9,274.2 244.4,274.4 243.9,274.7 243.4,275.0 242.8,275.3 242.3,275.6 241.8,275.9 241.2,276.1 240.7,276.4 240.2,276.7 239.7,277.0 239.1,277.3 238.6,277.6 238.1,277.9 237.6,278.2 237.0,278.4 236.5,278.7 236.0,279.0 235.4,279.3 234.9,279.6 234.4,279.9 233.9,280.2 233.3,280.5 232.8,280.8 232.3,281.0 231.8,281.3 231.2,281.6 230.7,281.9 230.2,282.2 229.7,282.5 229.1,282.8 228.6,283.1 228.1,283.3 227.5,283.6 227.0,283.9 226.5,284.2 226.0,284.5 225.4,284.8 224.9,285.1 224.4,285.4 223.9,285.6 223.3,285.9 222.8,286.2 222.3,286.5 221.7,286.8 221.2,287.1 220.7,287.4 220.2,287.7 219.6,288.0 219.1,288.2 218.6,288.5 218.1,288.8 217.5,289.1 217.0,289.4 216.5,289.7 215.9,290.0 215.4,290.3 214.9,290.5 214.4,290.8 213.8,291.1 213.3,291.3 212.8,291.4 212.3,291.6" fill="none" stroke="#e8141c" stroke-width="1.3" stroke-linejoin="round" clip-path="url(#dc)"/>
<line x1="212.26" y1="168.28" x2="338.74" y2="299.72" stroke="#e8141c" stroke-width="1.4" clip-path="url(#dc)"/>
<line x1="212.26" y1="165.38" x2="338.74" y2="302.62" stroke="#1c1ce0" stroke-width="1.4" clip-path="url(#dc)"/>
<line x1="213.50" y1="167.60" x2="337.90" y2="167.60" stroke="#555" stroke-width="1.2" />
<line x1="337.30" y1="167.60" x2="337.30" y2="300.20" stroke="#777" stroke-width="1.2" />
<line x1="213.50" y1="167.00" x2="213.50" y2="300.80" stroke="#222" stroke-width="1.3" />
<line x1="213.50" y1="300.20" x2="337.90" y2="300.20" stroke="#222" stroke-width="1.2" />
<line x1="213.50" y1="177.15" x2="215.50" y2="177.15" stroke="#111" stroke-width="0.8" />
<text transform="translate(212.30 180.25) scale(0.88 1)" font-size="8.6" text-anchor="end">3</text>
<line x1="213.50" y1="196.10" x2="215.50" y2="196.10" stroke="#111" stroke-width="0.8" />
<text transform="translate(212.30 199.20) scale(0.88 1)" font-size="8.6" text-anchor="end">2</text>
<line x1="213.50" y1="215.05" x2="215.50" y2="215.05" stroke="#111" stroke-width="0.8" />
<text transform="translate(212.30 218.15) scale(0.88 1)" font-size="8.6" text-anchor="end">1</text>
<line x1="213.50" y1="234.00" x2="215.50" y2="234.00" stroke="#111" stroke-width="0.8" />
<text transform="translate(212.30 237.10) scale(0.88 1)" font-size="8.6" text-anchor="end">0</text>
<line x1="213.50" y1="252.95" x2="215.50" y2="252.95" stroke="#111" stroke-width="0.8" />
<text transform="translate(212.30 256.05) scale(0.88 1)" font-size="8.6" text-anchor="end"><tspan font-size="5.8" dy="-1.05">−</tspan><tspan dy="1.05" dx="0.3">1</tspan></text>
<line x1="213.50" y1="271.90" x2="215.50" y2="271.90" stroke="#111" stroke-width="0.8" />
<text transform="translate(212.30 275.00) scale(0.88 1)" font-size="8.6" text-anchor="end"><tspan font-size="5.8" dy="-1.05">−</tspan><tspan dy="1.05" dx="0.3">2</tspan></text>
<line x1="213.50" y1="290.85" x2="215.50" y2="290.85" stroke="#111" stroke-width="0.8" />
<text transform="translate(212.30 293.95) scale(0.88 1)" font-size="8.6" text-anchor="end"><tspan font-size="5.8" dy="-1.05">−</tspan><tspan dy="1.05" dx="0.3">3</tspan></text>
<line x1="213.50" y1="300.20" x2="213.50" y2="298.60" stroke="#111" stroke-width="0.8" />
<text transform="translate(213.15 309.10) scale(0.88 1)" font-size="8.1" text-anchor="middle"><tspan font-size="5.8" dy="-1.05">−</tspan><tspan dy="1.05" dx="0.3">1.0</tspan></text>
<line x1="244.50" y1="300.20" x2="244.50" y2="298.60" stroke="#111" stroke-width="0.8" />
<text transform="translate(244.15 309.10) scale(0.88 1)" font-size="8.1" text-anchor="middle"><tspan font-size="5.8" dy="-1.05">−</tspan><tspan dy="1.05" dx="0.3">0.5</tspan></text>
<line x1="275.50" y1="300.20" x2="275.50" y2="298.60" stroke="#111" stroke-width="0.8" />
<text transform="translate(275.50 309.10) scale(0.88 1)" font-size="8.1" text-anchor="middle">0.0</text>
<line x1="306.50" y1="300.20" x2="306.50" y2="298.60" stroke="#111" stroke-width="0.8" />
<text transform="translate(306.50 309.10) scale(0.88 1)" font-size="8.1" text-anchor="middle">0.5</text>
<line x1="337.50" y1="300.20" x2="337.50" y2="298.60" stroke="#111" stroke-width="0.8" />
<text transform="translate(337.50 309.10) scale(0.88 1)" font-size="8.1" text-anchor="middle">1.0</text>
<text x="275.4" y="321.0" font-size="10.8" text-anchor="middle" fill="#000" >Magnetic Field (T)</text>
<text transform="translate(198.6 234.1) rotate(-90) scale(1.0 1.0)" font-size="10.85" text-anchor="middle" >Magnetization <tspan font-style="italic">M</tspan> (10<tspan font-size="60%" dy="-6">−5</tspan><tspan dy="6"> emu)</tspan></text>
<text x="227.6" y="178.3" font-size="10.0" text-anchor="start" fill="#000" >(d) GaN/Ga<tspan font-size="3.7" dy="1.3" dx="0.3">0.9</tspan><tspan dy="-1.3" dx="0.4">Mn</tspan><tspan font-size="3.7" dy="1.3" dx="0.3">0.1</tspan><tspan dy="-1.3" dx="0.4">N</tspan></text>
<text x="243.0" y="188.7" font-size="9.8" text-anchor="start" fill="#000" >DFH</text>
<text x="272.6" y="188.7" font-size="9.2" text-anchor="start" fill="#000" ><tspan font-style="italic">T</tspan> = 25 K</text>
<text x="321.0" y="192.9" font-size="6.4" text-anchor="start" fill="#000" >25 K</text>
<text x="292.0" y="212.4" font-size="6.1" text-anchor="start" fill="#000" >Subtracted data</text>
<text x="292.0" y="219.6" font-size="6.1" text-anchor="start" fill="#000" >× 20</text>
<text x="309.6" y="233.2" font-size="6.4" text-anchor="start" fill="#000" >300 K</text>
<line x1="217.30" y1="216.70" x2="229.10" y2="216.70" stroke="#e8141c" stroke-width="0.9" />
<circle cx="223.3" cy="216.7" r="1.7" fill="#e8141c"/>
<text x="231.0" y="219.0" font-size="6.4" text-anchor="start" fill="#000" >25 K</text>
<line x1="217.30" y1="224.10" x2="229.10" y2="224.10" stroke="#1c1ce0" stroke-width="0.9" />
<polygon points="223.3,221.8 225.3,225.6 221.3,225.6" fill="#1c1ce0"/>
<text x="231.0" y="226.2" font-size="6.4" text-anchor="start" fill="#000" >300 K</text>
<text x="240.3" y="297.3" font-size="6.8" text-anchor="start" fill="#000" ><tspan font-style="italic">H</tspan></text>
<line x1="245.90" y1="297.70" x2="248.20" y2="291.70" stroke="#000" stroke-width="1.8" />
<line x1="248.80" y1="297.70" x2="251.10" y2="291.70" stroke="#000" stroke-width="1.8" />
<text x="251.3" y="297.3" font-size="6.95" text-anchor="start" fill="#000" >(0001)</text>
</g>
</svg>
</body></html>
